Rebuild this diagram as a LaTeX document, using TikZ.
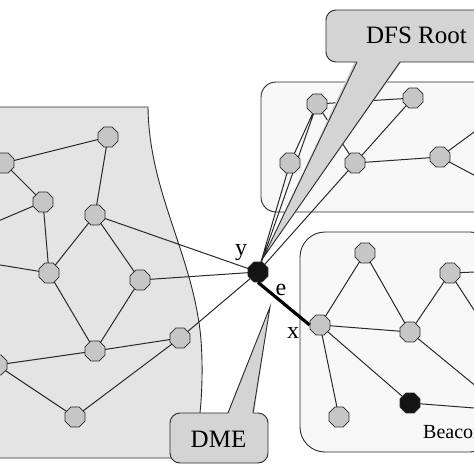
\documentclass[tikz,border=0pt]{standalone}
\usepackage{fontspec}
\setmainfont{Liberation Serif}
\usetikzlibrary{shapes.geometric}
\definecolor{regL}{HTML}{E4E4E4}
\definecolor{regR}{HTML}{F8F8F8}
\definecolor{nodeg}{HTML}{C6C6C6}
\definecolor{callg}{HTML}{D4D4D4}
\definecolor{linec}{HTML}{2A2A2A}
\tikzset{
  oct/.style={regular polygon, regular polygon sides=8, minimum size=21.6pt, inner sep=0pt, fill=nodeg, draw=linec, line width=0.8pt},
  blk/.style={oct, fill=black!92},
  edge/.style={draw=linec, line width=1pt},
  region/.style={draw=linec, line width=0.9pt},
  lbl/.style={font=\fontsize{24}{28}\selectfont, inner sep=0pt},
  calltext/.style={font=\fontsize{25}{30}\selectfont, inner sep=0pt, anchor=base}
}
\begin{document}
\begin{tikzpicture}[x=1pt, y=-1pt]
\useasboundingbox (0,0) rectangle (474,474);
\clip (0,0) rectangle (474,474);
\fill[white] (0,0) rectangle (474,474);
% regions
\path[region, fill=regL] (-10,107) -- (148,107) .. controls (149,190) and (190,250) .. (200,330)
   .. controls (204,362) and (203,430) .. (190,458) -- (-10,458) -- cycle;
\path[region, fill=regR, rounded corners=15pt] (261,82) rectangle (495,212);
\path[region, fill=regR, rounded corners=25pt] (300,232) rectangle (495,452);
% off-canvas ends
\coordinate (L1) at (-30,233);
\coordinate (L2) at (-30,260);
\coordinate (Q1) at (500,113);
\coordinate (Q2) at (500,189);
\coordinate (Q3) at (500,271);
\coordinate (Q4) at (500,350);
\coordinate (Q5) at (500,406);
\coordinate (Q6) at (500,410);
% node positions
\coordinate (pB) at (4,163);
\coordinate (pA) at (108,137);
\coordinate (pC) at (43,202);
\coordinate (pD) at (95,215);
\coordinate (pE) at (49,273);
\coordinate (pF) at (140,280);
\coordinate (pG) at (95,351);
\coordinate (pH) at (180,338);
\coordinate (pI) at (-3,365);
\coordinate (pJ) at (75,417);
\coordinate (pY) at (258,272);
\coordinate (pT1) at (317,104);
\coordinate (pT2) at (413,98);
\coordinate (pT3) at (290,163);
\coordinate (pT4) at (355,163);
\coordinate (pT5) at (440,157);
\coordinate (pX) at (320,325);
\coordinate (pR1) at (365,253);
\coordinate (pR2) at (450,273);
\coordinate (pR3) at (410,332);
\coordinate (pR4) at (339,417);
\coordinate (pBc) at (410,403);
% edges
\draw[edge] (pB) -- (pA) (pB) -- (pC) (pC) -- (L1) (pC) -- (pE) (L2) -- (pE)
  (pA) -- (pD) (pD) -- (pE) (pD) -- (pF) (pD) -- (pY) (pF) -- (pY)
  (pE) -- (pG) (pF) -- (pG) (pG) -- (pI) (pG) -- (pH) (pI) -- (pJ) (pJ) -- (pH) (pH) -- (pY);
\draw[edge] (pT1) -- (pT2) (pT1) -- (pT3) (pT1) -- (pT4) (pT2) -- (pT4) (pT4) -- (pT5)
  (pT3) -- (pY) (pT1) -- (pY) (pT4) -- (pY) (pT5) -- (Q1) (pT5) -- (Q2);
\draw[edge] (pX) -- (pR1) (pR1) -- (pR3) (pX) -- (pR3) (pR3) -- (pR2) (pX) -- (pR4) (pX) -- (pBc)
  (pR2) -- (Q3) (pR2) -- (Q4) (pR3) -- (Q5) (pBc) -- (Q6);
% node shapes
\foreach \n in {B,A,C,D,E,F,G,H,I,J,T1,T2,T3,T4,T5,X,R1,R2,R3,R4}
  \node[oct] (\n) at (p\n) {};
\node[blk] (y) at (pY) {};
\node[blk] (bc) at (pBc) {};
\draw[line width=3.2pt, black] (y.south) -- (X.west);
% DFS Root callout
\fill[callg, rounded corners=10pt] (326,10) rectangle (495,62);
\fill[callg] (355,61) -- (263,258) -- (402,61) -- cycle;
\draw[region, rounded corners=10pt] (400,62) -- (495,62) -- (495,10) -- (326,10) -- (326,62) -- (357,62);
\draw[region] (357,62) -- (263,258) -- (400,62);
\node[calltext] (dfs) at (416.5,43) {DFS Root};
% DME callout
\fill[callg, rounded corners=10pt] (170,413) rectangle (268,463);
\fill[callg] (227,414) -- (270,307) -- (254,414) -- cycle;
\draw[region, rounded corners=10pt] (253,413) -- (268,413) -- (268,463) -- (170,463) -- (170,413) -- (228,413);
\draw[region] (228,413) -- (270,307) -- (253,413);
\node[calltext] (dme) at (218.5,447) {DME};
% labels
\node[lbl] (ly) at (241,253) {y};
\node[lbl] (le) at (281,290) {e};
\node[lbl] (lx) at (293,333) {x};
\node[font=\fontsize{20}{24}\selectfont, inner sep=0pt, anchor=base west] (beacon) at (423,438) {Beacon};
\end{tikzpicture}
\end{document}
